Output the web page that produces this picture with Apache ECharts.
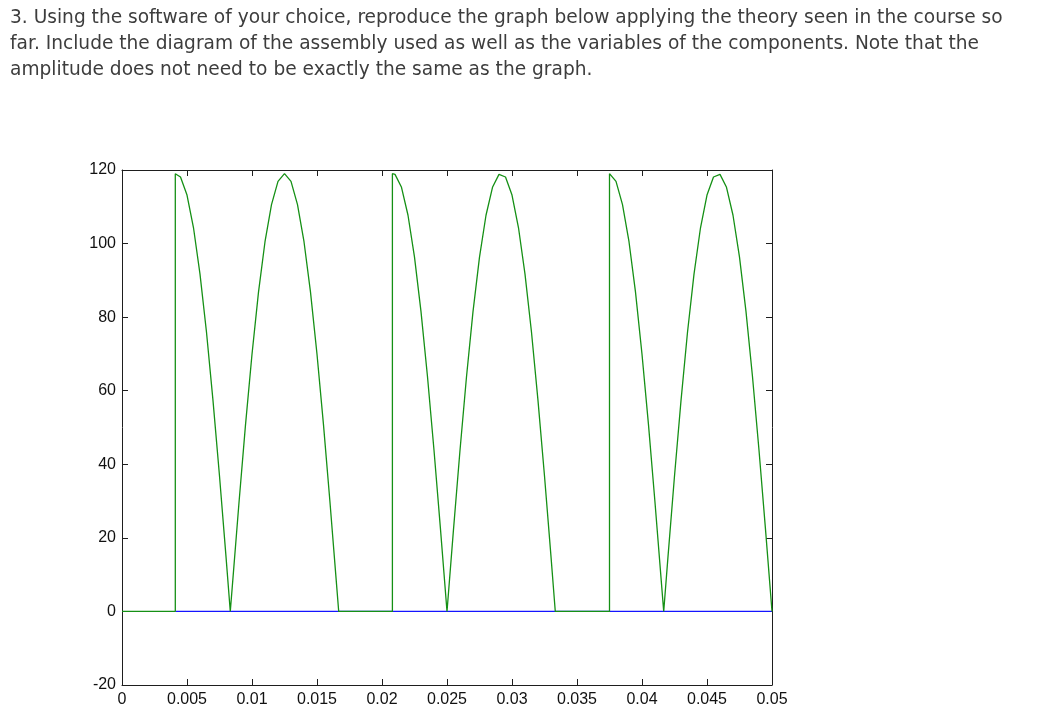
<!DOCTYPE html>
<html>
<head>
<meta charset="utf-8">
<script src="https://cdn.jsdelivr.net/npm/echarts@6/dist/echarts.min.js"></script>
<style>
html,body{margin:0;padding:0;background:#fff;}
#chart{width:1054px;height:726px;}
</style>
</head>
<body>
<div id="chart"></div>
<script>
const headingLines = [
  "3. Using the software of your choice, reproduce the graph below applying the theory seen in the course so",
  "far. Include the diagram of the assembly used as well as the variables of the components. Note that the",
  "amplitude does not need to be exactly the same as the graph."
];
const xTickLabels = ["0","0.005","0.01","0.015","0.02","0.025","0.03","0.035","0.04","0.045","0.05"];
const yTickLabels = ["-20","0","20","40","60","80","100","120"];

const greenTime = [
  0, 0.0041, 0.0041, 0.0045, 0.005, 0.0055, 0.006, 0.0065, 0.007, 0.0075, 0.008, 0.00833,
  0.0085, 0.009, 0.0095, 0.010, 0.0105, 0.011, 0.0115, 0.012, 0.0125, 0.013, 0.0135, 0.014,
  0.0145, 0.015, 0.0155, 0.016, 0.0165, 0.01667,
  0.0208, 0.0208, 0.021, 0.0215, 0.022, 0.0225, 0.023, 0.0235, 0.024, 0.0245, 0.025,
  0.0255, 0.026, 0.0265, 0.027, 0.0275, 0.028, 0.0285, 0.029, 0.0295, 0.030, 0.0305, 0.031,
  0.0315, 0.032, 0.0325, 0.033, 0.03333,
  0.0375, 0.0375, 0.038, 0.0385, 0.039, 0.0395, 0.040, 0.0405, 0.041, 0.0415, 0.04167,
  0.042, 0.0425, 0.043, 0.0435, 0.044, 0.0445, 0.045, 0.0455, 0.046, 0.0465, 0.047, 0.0475,
  0.048, 0.0485, 0.049, 0.0495, 0.05
];
const greenValues = [
  0, 0, 119, 118.1, 113.2, 104.3, 91.7, 75.9, 57.3, 36.8, 14.9, 0,
  7.5, 29.6, 50.7, 69.9, 86.8, 100.5, 110.6, 116.9, 119, 116.9, 110.6, 100.5,
  86.8, 69.9, 50.7, 29.6, 7.5, 0,
  0, 119, 118.8, 115.3, 107.7, 96.3, 81.5, 63.8, 43.8, 22.3, 0,
  22.3, 43.8, 63.8, 81.5, 96.3, 107.7, 115.3, 118.8, 118.1, 113.2, 104.3, 91.7,
  75.9, 57.3, 36.8, 14.9, 0,
  0, 119, 116.9, 110.6, 100.5, 86.8, 69.9, 50.7, 29.6, 7.5, 0,
  14.9, 36.8, 57.3, 75.9, 91.7, 104.3, 113.2, 118.1, 118.8, 115.3, 107.7, 96.3,
  81.5, 63.8, 43.8, 22.3, 0
];
const blueTime = [0.0041, 0.05];
const blueValues = [0, 0];

const greenData = greenTime.map((t, i) => [t, greenValues[i]]);
const blueData = blueTime.map((t, i) => [t, blueValues[i]]);

const chart = echarts.init(document.getElementById('chart'), null, {renderer: 'canvas'});
const axisColor = '#1e1e1e';
const labelFont = {fontFamily: 'Liberation Sans', fontSize: 16, color: '#111111'};

chart.setOption({
  animation: false,
  backgroundColor: '#ffffff',
  title: {
    text: headingLines.join('\n'),
    left: 5,
    top: 0,
    textStyle: {fontFamily: 'DejaVu Sans', fontSize: 18.6, fontWeight: 'normal', color: '#3d3d3d', lineHeight: 26}
  },
  grid: {left: 122, right: 282, top: 170, bottom: 41, containLabel: false},
  xAxis: [
    {
      type: 'value', position: 'bottom', min: 0, max: 0.05, interval: 0.005,
      axisLine: {show: true, onZero: false, lineStyle: {color: axisColor, width: 1}},
      axisTick: {show: true, inside: true, length: 6, lineStyle: {color: axisColor}},
      splitLine: {show: false},
      axisLabel: Object.assign({margin: 7, formatter: v => xTickLabels[Math.round(v / 0.005)]}, labelFont)
    },
    {
      type: 'value', position: 'top', min: 0, max: 0.05, interval: 0.005,
      axisLine: {show: true, onZero: false, lineStyle: {color: axisColor, width: 1}},
      axisTick: {show: true, inside: true, length: 6, lineStyle: {color: axisColor}},
      splitLine: {show: false},
      axisLabel: {show: false}
    }
  ],
  yAxis: [
    {
      type: 'value', position: 'left', min: -20, max: 120, interval: 20,
      axisLine: {show: true, onZero: false, lineStyle: {color: axisColor, width: 1}},
      axisTick: {show: true, inside: true, length: 6, lineStyle: {color: axisColor}},
      splitLine: {show: false},
      axisLabel: Object.assign({margin: 6, formatter: v => yTickLabels[Math.round((v + 20) / 20)]}, labelFont)
    },
    {
      type: 'value', position: 'right', min: -20, max: 120, interval: 20,
      axisLine: {show: true, onZero: false, lineStyle: {color: axisColor, width: 1}},
      axisTick: {show: true, inside: true, length: 6, lineStyle: {color: axisColor}},
      splitLine: {show: false},
      axisLabel: {show: false}
    }
  ],
  series: [
    {
      type: 'line', data: blueData, xAxisIndex: 0, yAxisIndex: 0,
      showSymbol: false, symbol: 'none',
      lineStyle: {color: '#1414ff', width: 1.3}, z: 2
    },
    {
      type: 'line', data: greenData, xAxisIndex: 0, yAxisIndex: 0,
      showSymbol: false, symbol: 'none',
      lineStyle: {color: '#159015', width: 1.3}, z: 3
    }
  ]
});
</script>
</body>
</html>
